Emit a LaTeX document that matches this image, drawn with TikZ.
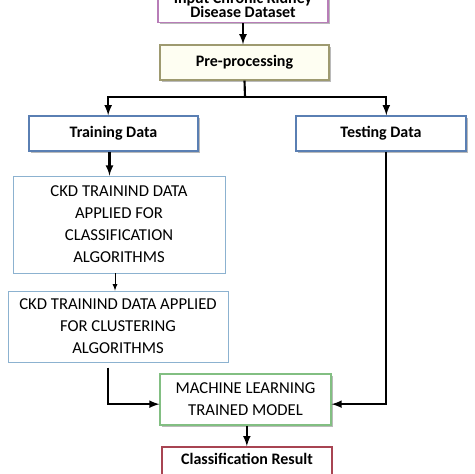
\documentclass[tikz,border=0pt]{standalone}
\usepackage{fontspec}
\setmainfont{Carlito}
\usetikzlibrary{positioning,calc,shadows}

\definecolor{inputpink}{HTML}{B87DB8}
\definecolor{preolive}{HTML}{9E9A70}
\definecolor{precream}{HTML}{FEFEF2}
\definecolor{datablue}{HTML}{5A7FB3}
\definecolor{ckdblue}{HTML}{8CB2D0}
\definecolor{mlgreen}{HTML}{82BF82}
\definecolor{resultred}{HTML}{A84452}

\begin{document}
\begin{tikzpicture}[>=latex, x=0.75pt, y=-0.75pt,
    box/.style={draw, rectangle, align=center, inner sep=0pt, line width=1pt, fill=white},
    boldbox/.style={box, font=\bfseries\fontsize{12}{10.5}\selectfont},
    capsbox/.style={box, line width=0.6pt, draw=ckdblue, font=\fontsize{12.5}{16.5}\selectfont},
    shade/.style={drop shadow={shadow xshift=1.5pt, shadow yshift=-1.5pt, fill=black!45, opacity=.6}},
    arr/.style={->, line width=1.6pt},
    thinarr/.style={->, line width=0.7pt}]
    \useasboundingbox (0,0) rectangle (474,474);

    % boxes
    \node[boldbox, draw=inputpink, shade, minimum width=127.5pt, minimum height=26.25pt] (input) at (243,5) {Input Chronic Kidney\\Disease Dataset};
    \node[boldbox, draw=preolive, fill=precream, shade, minimum width=126.75pt, minimum height=26.25pt] (pre) at (244.5,62.5) {Pre-processing};
    \node[boldbox, draw=datablue, shade, minimum width=126.75pt, minimum height=26.25pt] (train) at (113.5,133.5) {Training Data};
    \node[boldbox, draw=datablue, shade, minimum width=127.5pt, minimum height=26.25pt] (test) at (381,133.5) {Testing Data};
    \node[capsbox, minimum width=159pt, minimum height=72.75pt] (classif) at (119,224.5) {CKD TRAININD DATA\\APPLIED FOR\\CLASSIFICATION\\ALGORITHMS};
    \node[capsbox, minimum width=165pt, minimum height=53.25pt] (cluster) at (118,326.5) {CKD TRAININD DATA APPLIED\\FOR CLUSTERING\\ALGORITHMS};
    \node[capsbox, draw=mlgreen, line width=0.8pt, shade, minimum width=128.25pt, minimum height=38.25pt] (ml) at (245.5,399.5) {MACHINE LEARNING\\TRAINED MODEL};
    \node[boldbox, draw=resultred, line width=1.3pt, minimum width=127.5pt, minimum height=28.5pt, text height=8pt, text depth=10pt] (result) at (247,466) {Classification Result};

    % connectors
    \coordinate (split) at (245,97);
    \draw[arr] (input.south) -- (input.south |- pre.north);
    \draw[line width=1.6pt] (pre.south) -- (split);
    \draw[arr] (split) -| ([xshift=-4pt]train.north);
    \draw[arr] (split) -| ([xshift=4pt]test.north);
    \draw[arr] ([xshift=-3pt]train.south) -- ([xshift=-3pt]train.south |- classif.north);
    \draw[thinarr] ([xshift=-3pt]classif.south) -- ([xshift=-3pt]classif.south |- cluster.north);
    \draw[arr] ([xshift=-7.5pt,yshift=-4pt]cluster.south) |- ([yshift=-3.5pt]ml.west);
    \draw[arr] ([xshift=4pt]test.south) |- ([yshift=-3.5pt]ml.east);
    \draw[arr] ([xshift=1pt]ml.south) -- ([xshift=1pt]ml.south |- result.north);
\end{tikzpicture}
\end{document}
